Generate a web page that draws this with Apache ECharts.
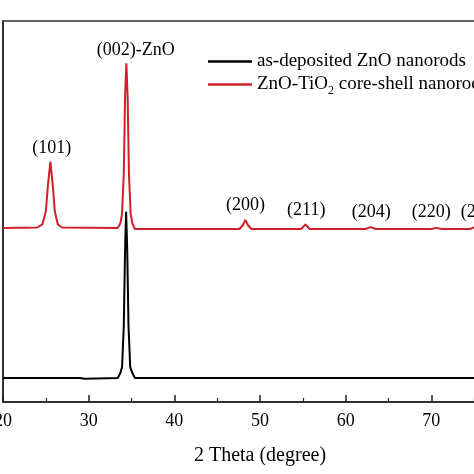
<!DOCTYPE html>
<html>
<head>
<meta charset="utf-8">
<script src="https://cdn.jsdelivr.net/npm/echarts@6/dist/echarts.min.js"></script>
<style>
  html, body { margin: 0; padding: 0; background: #fff; }
  #xrd-chart { width: 474px; height: 474px; }
</style>
</head>
<body>
<div id="xrd-chart"></div>
<script>
// XRD patterns: [2 theta, intensity (a.u.)]
const zno = [
  [20, 6.3], [29, 6.3], [29.5, 6.1], [33.4, 6.3], [33.7, 7.6], [33.9, 9.2],
  [34.1, 20], [34.25, 40], [34.37, 49.9], [34.5, 40], [34.65, 20],
  [34.85, 9.2], [35.1, 7.6], [35.4, 6.3], [80, 6.3]
];
const znoTio2 = [
  [20, 45.7], [24.0, 45.8], [24.6, 46.6], [25.0, 50], [25.25, 57], [25.53, 63.1],
  [25.8, 57], [26.05, 50], [26.4, 46.6], [26.9, 45.8], [33.4, 45.7],
  [33.7, 46.9], [33.9, 49.5], [34.1, 60], [34.25, 80], [34.4, 88.9],
  [34.55, 80], [34.7, 60], [34.9, 49.5], [35.1, 46.9], [35.4, 45.4],
  [47.6, 45.4], [48.0, 46.4], [48.3, 47.8], [48.6, 46.4], [49.0, 45.4],
  [54.8, 45.4], [55.3, 46.6], [55.8, 45.4], [62.3, 45.4], [62.9, 45.9],
  [63.5, 45.4], [70.0, 45.4], [70.6, 45.7], [71.2, 45.4], [74.5, 45.4],
  [75.0, 45.8], [75.5, 45.4], [80, 45.4]
];
// peak labels: [2 theta, intensity, text]
const peakLabels = [
  [25.7, 66.7, '(101)'],
  [35.5, 92.4, '(002)-ZnO'],
  [48.3, 51.7, '(200)'],
  [55.4, 50.4, '(211)'],
  [63.0, 49.9, '(204)'],
  [70.0, 49.9, '(220)'],
  [75.7, 49.9, '(215)']
];
const seriesNames = ['as-deposited ZnO nanorods', 'ZnO-TiO2 core-shell nanorods'];

const chart = echarts.init(document.getElementById('xrd-chart'));
const serif = 'Liberation Serif, Times New Roman, serif';

const option = {
  animation: false,
  grid: {
    left: 3, top: 21, bottom: 72, right: -43,
    outerBoundsMode: 'none',
    containLabel: false,
    show: true, borderColor: '#333', borderWidth: 1.5
  },
  legend: {
    orient: 'vertical',
    left: 203, top: 47,
    icon: 'rect',
    itemWidth: 44, itemHeight: 2.5,
    itemGap: 4,
    data: seriesNames,
    formatter: function (name) {
      if (name === seriesNames[1]) return '{t|ZnO-TiO}{sub|2}{t| core-shell nanorods}';
      return '{t|' + name + '}';
    },
    textStyle: {
      fontFamily: serif, fontSize: 19, color: '#000',
      rich: {
        t: { fontFamily: serif, fontSize: 19, color: '#000', lineHeight: 20 },
        sub: { fontFamily: serif, fontSize: 12, color: '#000', padding: [12, 0, 0, 0] }
      }
    }
  },
  xAxis: {
    type: 'value', min: 20, max: 80, interval: 10,
    name: '2 Theta (degree)', nameLocation: 'middle', nameGap: 44,
    nameTextStyle: { fontFamily: serif, fontSize: 20, color: '#000' },
    axisLine: { lineStyle: { color: '#222', width: 1.5 } },
    axisTick: { inside: true, length: 7, lineStyle: { color: '#222', width: 1.5 } },
    minorTick: { show: true, splitNumber: 2, length: 4, lineStyle: { color: '#222', width: 1.2 } },
    axisLabel: { fontFamily: serif, fontSize: 18, color: '#000', margin: 10 },
    splitLine: { show: false }
  },
  yAxis: {
    type: 'value', min: 0, max: 100,
    axisLine: { show: true, lineStyle: { color: '#222', width: 1.5 } },
    axisTick: { show: false },
    axisLabel: { show: false },
    splitLine: { show: false }
  },
  series: [
    {
      name: seriesNames[0], type: 'line', data: zno,
      symbol: 'none', color: '#000', lineStyle: { width: 2 }, z: 2
    },
    {
      name: seriesNames[1], type: 'line', data: znoTio2,
      symbol: 'none', color: '#d0202a', lineStyle: { width: 2 }, z: 3
    },
    {
      type: 'scatter', symbolSize: 0, silent: true,
      itemStyle: { opacity: 1, color: '#000' },
      data: peakLabels.map(p => ({ value: [p[0], p[1]], name: p[2] })),
      label: {
        show: true, position: 'inside', formatter: '{b}',
        fontFamily: serif, fontSize: 18, color: '#000',
        textBorderWidth: 0, textBorderColor: 'transparent', opacity: 1
      }
    }
  ]
};

chart.setOption(option);
</script>
</body>
</html>
